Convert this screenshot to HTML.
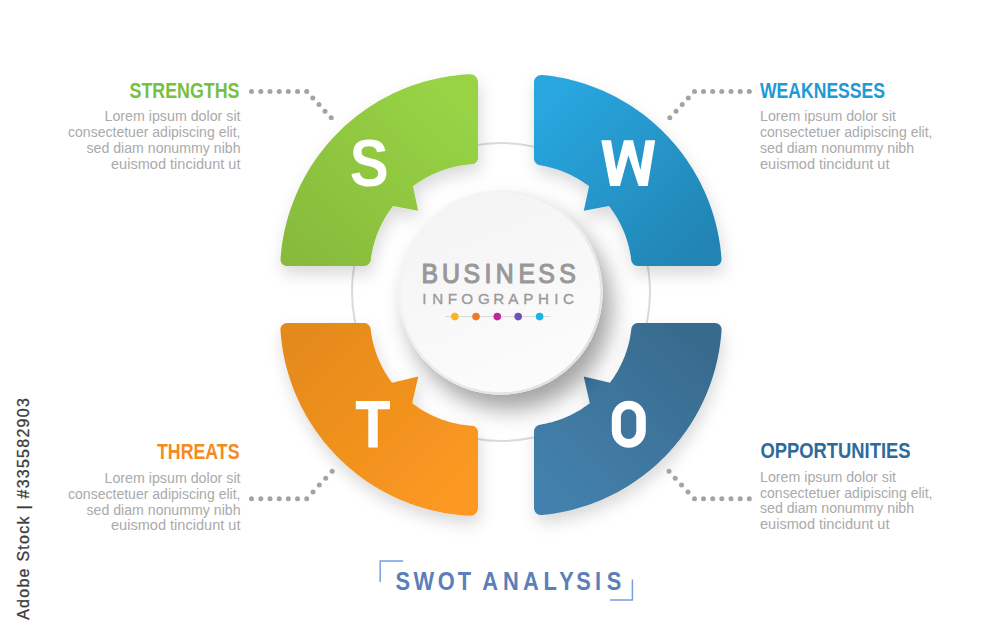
<!DOCTYPE html>
<html><head><meta charset="utf-8">
<style>
html,body{margin:0;padding:0;background:#fff;}
body{width:1000px;height:636px;overflow:hidden;position:relative;font-family:"Liberation Sans",sans-serif;}
svg{position:absolute;left:0;top:0;}
</style></head>
<body>
<svg width="1000" height="636" viewBox="0 0 1000 636">
<defs>
<linearGradient id="gG" gradientUnits="userSpaceOnUse" x1="445" y1="95" x2="300" y2="250"><stop offset="0" stop-color="#97d345"/><stop offset="1" stop-color="#88bb3b"/></linearGradient>
<linearGradient id="gB" gradientUnits="userSpaceOnUse" x1="555" y1="95" x2="705" y2="250"><stop offset="0" stop-color="#29a6df"/><stop offset="1" stop-color="#2284b3"/></linearGradient>
<linearGradient id="gO" gradientUnits="userSpaceOnUse" x1="300" y1="340" x2="460" y2="500"><stop offset="0" stop-color="#e48a1c"/><stop offset="1" stop-color="#fd9921"/></linearGradient>
<linearGradient id="gD" gradientUnits="userSpaceOnUse" x1="705" y1="340" x2="550" y2="500"><stop offset="0" stop-color="#386a8d"/><stop offset="1" stop-color="#4381ad"/></linearGradient>
<linearGradient id="gC" gradientUnits="userSpaceOnUse" x1="460" y1="195" x2="540" y2="390"><stop offset="0" stop-color="#f4f4f4"/><stop offset="1" stop-color="#fcfcfc"/></linearGradient>
<filter id="sh" x="-20%" y="-20%" width="150%" height="150%"><feDropShadow dx="2" dy="8" stdDeviation="8" flood-color="#000" flood-opacity="0.15"/></filter>
<filter id="shc" x="-40%" y="-40%" width="190%" height="190%"><feDropShadow dx="9" dy="15" stdDeviation="11" flood-color="#000" flood-opacity="0.36"/></filter>
<linearGradient id="gR" gradientUnits="userSpaceOnUse" x1="430" y1="220" x2="575" y2="370"><stop offset="0" stop-color="#f6f6f6"/><stop offset="0.5" stop-color="#ededed"/><stop offset="1" stop-color="#e0e0e0"/></linearGradient>
<filter id="glow" x="-10%" y="-50%" width="120%" height="200%"><feMorphology in="SourceAlpha" operator="dilate" radius="1.5" result="d"/><feGaussianBlur in="d" stdDeviation="1.5" result="b"/><feFlood flood-color="#fff"/><feComposite in2="b" operator="in" result="w"/><feMerge><feMergeNode in="w"/><feMergeNode in="SourceGraphic"/></feMerge></filter>
</defs>
<circle cx="501" cy="292" r="149" fill="none" stroke="#dadada" stroke-width="2"/>
<g filter="url(#sh)">
<path d="M478.00,82.00C478.00,77.58 474.42,74.10 470.00,74.21L467.50,74.33L464.01,74.57L460.52,74.86L457.04,75.22L453.56,75.63L450.09,76.11L446.64,76.65L443.19,77.25L439.75,77.91L436.32,78.63L432.91,79.41L429.51,80.25L426.13,81.15L422.76,82.11L419.41,83.13L416.08,84.21L412.77,85.34L409.48,86.54L406.21,87.79L402.96,89.10L399.74,90.47L396.54,91.89L393.37,93.37L390.22,94.90L387.10,96.49L384.01,98.14L380.95,99.83L377.92,101.59L374.92,103.39L371.95,105.25L369.01,107.16L366.11,109.12L363.25,111.13L360.42,113.19L357.63,115.30L354.87,117.46L352.15,119.67L349.47,121.92L346.84,124.23L344.24,126.57L341.69,128.97L339.17,131.40L336.70,133.89L334.28,136.41L331.90,138.98L329.56,141.59L327.27,144.24L325.03,146.93L322.84,149.65L320.69,152.42L318.60,155.22L316.55,158.06L314.55,160.94L312.61,163.85L310.71,166.79L308.87,169.77L307.08,172.78L305.34,175.82L303.66,178.89L302.03,181.99L300.46,185.12L298.94,188.27L297.48,191.45L296.07,194.66L294.72,197.89L293.43,201.14L292.19,204.42L291.01,207.71L289.89,211.03L288.83,214.37L287.83,217.72L286.89,221.09L286.01,224.48L285.18,227.88L284.42,231.30L283.71,234.73L283.07,238.17L282.49,241.62L281.97,245.08L281.51,248.56L281.11,252.03L280.77,255.52L280.49,259.01L280.49,259.01C280.29,262.87 283.26,266.00 287.12,266.00L364.23,266.00C367.54,266.00 370.47,263.33 370.78,260.03L370.99,258.38L371.26,256.48L371.57,254.59L371.91,252.70L372.28,250.82L372.69,248.95L373.13,247.09L373.60,245.23L374.10,243.38L374.64,241.54L375.21,239.71L375.81,237.89L376.44,236.08L377.11,234.29L377.80,232.50L378.53,230.73L379.29,228.97L380.08,227.22L380.90,225.49L381.75,223.77L382.63,222.07L383.54,220.39L384.48,218.72L385.45,217.06L386.44,215.43L387.47,213.81L388.53,212.21L389.61,210.63L390.72,209.07L391.86,207.53L393.02,206.00L418.20,210.70L412.98,186.27L414.53,185.11L416.11,183.97L417.71,182.87L419.32,181.79L420.96,180.74L422.61,179.72L424.28,178.73L425.97,177.77L427.67,176.84L429.40,175.94L431.13,175.07L432.89,174.24L434.65,173.43L436.43,172.66L438.23,171.91L440.04,171.20L441.86,170.52L443.69,169.88L445.53,169.27L447.38,168.69L449.25,168.14L451.12,167.63L453.00,167.15L454.89,166.70L456.79,166.29L458.70,165.91L460.61,165.56L462.53,165.25L464.45,164.98L466.37,164.73L468.31,164.53L470.24,164.35L472.00,164.23C475.32,164.10 478.00,161.32 478.00,158.00Z" fill="url(#gG)"/>
<path d="M534.00,82.30C534.00,77.89 537.57,74.58 541.98,74.91L544.48,75.16L547.97,75.57L551.44,76.04L554.91,76.57L558.37,77.17L561.81,77.82L565.24,78.54L568.66,79.31L572.07,80.14L575.46,81.04L578.84,81.99L582.19,83.01L585.53,84.08L588.85,85.21L592.15,86.40L595.43,87.65L598.68,88.95L601.91,90.32L605.12,91.73L608.30,93.21L611.46,94.74L614.58,96.33L617.68,97.97L620.75,99.66L623.79,101.41L626.80,103.22L629.78,105.07L632.72,106.98L635.63,108.94L638.50,110.95L641.34,113.01L644.14,115.12L646.90,117.28L649.63,119.49L652.31,121.74L654.96,124.04L657.56,126.39L660.13,128.79L662.65,131.23L665.12,133.71L667.56,136.23L669.94,138.80L672.28,141.41L674.58,144.06L676.83,146.76L679.03,149.49L681.18,152.25L683.29,155.06L685.34,157.90L687.34,160.78L689.29,163.70L691.19,166.64L693.04,169.62L694.84,172.64L696.58,175.68L698.27,178.75L699.90,181.86L701.48,184.99L703.00,188.15L704.47,191.33L705.88,194.54L707.24,197.78L708.53,201.04L709.77,204.32L710.95,207.62L712.08,210.94L713.14,214.28L714.15,217.64L715.09,221.02L715.98,224.41L716.80,227.82L717.57,231.24L718.28,234.68L718.92,238.12L719.50,241.58L720.03,245.05L720.49,248.53L720.89,252.01L721.23,255.50L721.51,259.00L721.51,259.01C721.71,262.87 718.74,266.00 714.88,266.00L637.77,266.00C634.46,266.00 631.53,263.33 631.22,260.03L631.01,258.38L630.74,256.48L630.43,254.59L630.09,252.70L629.72,250.82L629.31,248.95L628.87,247.09L628.40,245.23L627.90,243.38L627.36,241.54L626.79,239.71L626.19,237.89L625.56,236.08L624.89,234.29L624.20,232.50L623.47,230.73L622.71,228.97L621.92,227.22L621.10,225.49L620.25,223.77L619.37,222.07L618.46,220.39L617.52,218.72L616.55,217.06L615.56,215.43L614.53,213.81L613.47,212.21L612.39,210.63L611.28,209.07L610.14,207.53L608.98,206.00L583.80,210.70L589.02,186.27L587.47,185.11L585.91,183.98L584.32,182.88L582.71,181.81L581.09,180.77L579.44,179.75L577.78,178.77L576.10,177.81L574.40,176.88L572.69,175.99L570.97,175.12L569.22,174.29L567.47,173.48L565.69,172.71L563.91,171.97L562.11,171.26L560.30,170.58L558.48,169.94L556.65,169.32L554.81,168.74L552.95,168.20L551.09,167.68L549.22,167.20L547.34,166.75L545.45,166.34L543.56,165.96L541.66,165.61L539.95,165.33C536.66,164.90 534.00,161.87 534.00,158.56Z" fill="url(#gB)"/>
<path d="M478.00,508.00C478.00,512.42 474.42,515.90 470.00,515.79L467.47,515.67L463.96,515.43L460.46,515.13L456.97,514.78L453.48,514.36L450.00,513.88L446.53,513.33L443.07,512.73L439.62,512.07L436.19,511.34L432.76,510.55L429.35,509.71L425.96,508.80L422.58,507.84L419.22,506.81L415.88,505.73L412.56,504.58L409.26,503.38L405.98,502.12L402.73,500.80L399.50,499.43L396.29,498.00L393.11,496.51L389.95,494.96L386.82,493.37L383.73,491.71L380.66,490.00L377.62,488.24L374.61,486.42L371.64,484.55L368.70,482.63L365.79,480.66L362.92,478.64L360.09,476.56L357.29,474.44L354.53,472.27L351.81,470.05L349.13,467.78L346.48,465.46L343.89,463.10L341.33,460.69L338.81,458.24L336.34,455.74L333.92,453.20L331.53,450.62L329.20,448.00L326.91,445.33L324.67,442.63L322.48,439.89L320.33,437.10L318.24,434.28L316.19,431.43L314.20,428.54L312.25,425.61L310.36,422.65L308.52,419.66L306.74,416.63L305.01,413.58L303.33,410.49L301.71,407.38L300.14,404.23L298.63,401.06L297.17,397.87L295.77,394.64L294.43,391.40L293.15,388.13L291.92,384.84L290.75,381.53L289.64,378.19L288.59,374.84L287.60,371.47L286.67,368.09L285.80,364.68L284.99,361.27L284.23,357.83L283.54,354.39L282.91,350.93L282.35,347.47L281.84,343.99L281.39,340.51L281.01,337.02L280.69,333.52L280.43,330.02L280.42,329.99C280.24,326.13 283.22,323.00 287.09,323.00L364.17,323.00C367.48,323.00 370.39,325.68 370.66,328.98L370.87,330.78L371.14,332.72L371.44,334.65L371.77,336.57L372.14,338.49L372.54,340.40L372.98,342.31L373.45,344.21L373.95,346.09L374.49,347.97L375.06,349.84L375.67,351.70L376.31,353.54L376.98,355.38L377.68,357.20L378.42,359.01L379.19,360.81L379.99,362.59L380.83,364.36L381.69,366.11L382.59,367.85L383.51,369.57L384.47,371.27L385.46,372.95L386.48,374.62L387.52,376.27L388.60,377.90L389.71,379.51L390.84,381.10L392.01,382.67L418.30,376.60L412.20,403.13L413.72,404.29L415.27,405.43L416.83,406.53L418.42,407.61L420.02,408.66L421.64,409.69L423.28,410.68L424.93,411.65L426.60,412.58L428.29,413.49L430.00,414.36L431.72,415.21L433.45,416.03L435.20,416.81L436.96,417.57L438.73,418.29L440.52,418.98L442.32,419.64L444.13,420.27L445.95,420.87L447.78,421.43L449.62,421.97L451.47,422.47L453.33,422.93L455.20,423.37L457.07,423.77L458.95,424.14L460.84,424.48L462.73,424.78L464.63,425.05L466.53,425.28L468.43,425.49L470.34,425.66L472.00,425.77C475.32,425.90 478.00,428.68 478.00,432.00Z" fill="url(#gO)"/>
<path d="M534.00,507.70C534.00,512.11 537.57,515.42 541.98,515.09L544.40,514.85L547.85,514.44L551.30,513.98L554.73,513.45L558.16,512.87L561.58,512.22L564.98,511.52L568.38,510.76L571.76,509.93L575.12,509.05L578.47,508.11L581.80,507.12L585.11,506.06L588.41,504.94L591.68,503.77L594.93,502.54L598.16,501.26L601.37,499.92L604.56,498.52L607.72,497.07L610.85,495.56L613.96,494.00L617.04,492.38L620.09,490.71L623.11,488.99L626.10,487.21L629.05,485.38L631.98,483.51L634.87,481.58L637.73,479.60L640.56,477.57L643.34,475.49L646.09,473.36L648.81,471.19L651.48,468.96L654.12,466.70L656.71,464.38L659.27,462.02L661.78,459.62L664.25,457.17L666.68,454.68L669.06,452.15L671.40,449.58L673.70,446.97L675.95,444.31L678.15,441.62L680.30,438.89L682.41,436.12L684.46,433.32L686.47,430.48L688.43,427.61L690.34,424.70L692.19,421.76L694.00,418.79L695.75,415.78L697.45,412.75L699.10,409.69L700.69,406.60L702.23,403.48L703.71,400.33L705.14,397.16L706.51,393.97L707.83,390.75L709.09,387.51L710.29,384.24L711.44,380.96L712.53,377.66L713.56,374.34L714.53,371.00L715.45,367.64L716.30,364.27L717.10,360.89L717.84,357.49L718.51,354.08L719.13,350.66L719.69,347.23L720.19,343.78L720.63,340.33L721.00,336.88L721.32,333.41L721.58,329.99C721.76,326.13 718.78,323.00 714.91,323.00L637.83,323.00C634.52,323.00 631.61,325.68 631.34,328.98L631.13,330.78L630.86,332.72L630.56,334.65L630.23,336.57L629.86,338.49L629.46,340.40L629.02,342.31L628.55,344.21L628.05,346.09L627.51,347.97L626.94,349.84L626.33,351.70L625.69,353.54L625.02,355.38L624.32,357.20L623.58,359.01L622.81,360.81L622.01,362.59L621.17,364.36L620.31,366.11L619.41,367.85L618.49,369.57L617.53,371.27L616.54,372.95L615.52,374.62L614.48,376.27L613.40,377.90L612.29,379.51L611.16,381.10L609.99,382.67L583.70,376.60L589.80,403.13L588.29,404.28L586.75,405.41L585.20,406.51L583.63,407.58L582.04,408.63L580.43,409.64L578.81,410.63L577.16,411.59L575.50,412.52L573.83,413.42L572.14,414.30L570.43,415.14L568.71,415.95L566.98,416.73L565.23,417.49L563.47,418.21L561.70,418.90L559.91,419.56L558.12,420.19L556.31,420.79L554.49,421.35L552.67,421.89L550.83,422.39L548.99,422.86L547.14,423.29L545.28,423.70L543.41,424.07L541.54,424.41L539.95,424.67C536.66,425.10 534.00,428.13 534.00,431.44Z" fill="url(#gD)"/>
</g>
<circle cx="500.5" cy="292.5" r="102" fill="#f0f0f0" filter="url(#shc)"/>
<circle cx="500.5" cy="292.5" r="101" fill="url(#gC)" stroke="url(#gR)" stroke-width="2.5"/>
<!-- letters -->
<text x="369.2" y="186" font-family="Liberation Sans" font-weight="bold" font-size="67" fill="#fff" text-anchor="middle" transform="translate(368.9 0) scale(0.87 1) translate(-368.9 0)">S</text>
<path d="M601.3,140.2H611L616.2,170L623.9,140.2H633L640.4,170L645.5,140.2H655.2L647.7,186H638.6L628.4,155.3L620,186H610.1Z" fill="#fff"/>
<path d="M355.8,400.9H390V409.3H377.7V447.4H368.3V409.3H355.8Z" fill="#fff"/>
<path fill="#fff" fill-rule="evenodd" d="M611.8,417.7A17,17 0 0 1 645.8,417.7V430.8A17,17 0 0 1 611.8,430.8Z M620.9,416.9A7.7,7.7 0 0 1 636.3,416.9V431.2A7.7,7.7 0 0 1 620.9,431.2Z"/>
<!-- center text -->
<text x="467.28 490.22 512.93 530.43 548.59 572.50 594.13 616.85" y="283" transform="scale(0.92 1)" text-anchor="middle" font-family="Liberation Sans" font-size="27" fill="#999999" stroke="#999999" stroke-width="1.2">BUSINESS</text>
<text x="424.40 437.70 452.40 467.20 483.80 498.70 513.40 528.40 543.60 556.30 568.60" y="303.6" text-anchor="middle" font-family="Liberation Sans" font-size="15.2" fill="#9a9a9a" stroke="#9a9a9a" stroke-width="0.35">INFOGRAPHIC</text>
<line x1="445" y1="316.6" x2="550.3" y2="316.6" stroke="#d8d8d8" stroke-width="1"/>
<circle cx="454.8" cy="316.6" r="3.8" fill="#fbb51f"/>
<circle cx="476" cy="316.6" r="3.8" fill="#f07b24"/>
<circle cx="497.3" cy="316.6" r="3.8" fill="#c0279a"/>
<circle cx="518.2" cy="316.6" r="3.8" fill="#6c52b5"/>
<circle cx="539.6" cy="316.6" r="3.8" fill="#1ab5e5"/>
<!-- dotted connectors -->
<g fill="#a3a3a3">
<circle cx="251.5" cy="91.5" r="2.5"/><circle cx="251.5" cy="498.8" r="2.5"/><circle cx="260.8" cy="91.5" r="2.5"/><circle cx="260.8" cy="498.8" r="2.5"/><circle cx="270" cy="91.5" r="2.5"/><circle cx="270" cy="498.8" r="2.5"/><circle cx="279.2" cy="91.5" r="2.5"/><circle cx="279.2" cy="498.8" r="2.5"/><circle cx="288.3" cy="91.5" r="2.5"/><circle cx="288.3" cy="498.8" r="2.5"/><circle cx="297.5" cy="91.5" r="2.5"/><circle cx="297.5" cy="498.8" r="2.5"/><circle cx="306.7" cy="91.5" r="2.5"/><circle cx="306.7" cy="498.8" r="2.5"/><circle cx="694.5" cy="91.5" r="2.5"/><circle cx="694.5" cy="498.8" r="2.5"/><circle cx="703.5" cy="91.5" r="2.5"/><circle cx="703.5" cy="498.8" r="2.5"/><circle cx="712.7" cy="91.5" r="2.5"/><circle cx="712.7" cy="498.8" r="2.5"/><circle cx="721.8" cy="91.5" r="2.5"/><circle cx="721.8" cy="498.8" r="2.5"/><circle cx="731" cy="91.5" r="2.5"/><circle cx="731" cy="498.8" r="2.5"/><circle cx="740.2" cy="91.5" r="2.5"/><circle cx="740.2" cy="498.8" r="2.5"/><circle cx="749.3" cy="91.5" r="2.5"/><circle cx="749.3" cy="498.8" r="2.5"/><circle cx="312.8" cy="98" r="2.5"/><circle cx="319" cy="104.5" r="2.5"/><circle cx="325" cy="111.2" r="2.5"/><circle cx="331.2" cy="117.8" r="2.5"/><circle cx="688.3" cy="98" r="2.5"/><circle cx="682.2" cy="104.5" r="2.5"/><circle cx="676" cy="111.2" r="2.5"/><circle cx="669.8" cy="117.8" r="2.5"/><circle cx="313" cy="492" r="2.5"/><circle cx="319.3" cy="485" r="2.5"/><circle cx="325.7" cy="478.3" r="2.5"/><circle cx="332.2" cy="471.2" r="2.5"/><circle cx="688" cy="492" r="2.5"/><circle cx="681.5" cy="485" r="2.5"/><circle cx="675.2" cy="478.3" r="2.5"/><circle cx="669" cy="471.2" r="2.5"/>
</g>
<!-- headings -->
<text x="129.5" y="98.1" font-family="Liberation Sans" font-weight="bold" font-size="21.6" fill="#78c03f" textLength="110" lengthAdjust="spacingAndGlyphs">STRENGTHS</text>
<text x="760" y="98.2" font-family="Liberation Sans" font-weight="bold" font-size="21.6" fill="#2199d5" textLength="125" lengthAdjust="spacingAndGlyphs">WEAKNESSES</text>
<text x="157" y="459" font-family="Liberation Sans" font-weight="bold" font-size="21.6" fill="#f58a1f" textLength="82.5" lengthAdjust="spacingAndGlyphs">THREATS</text>
<text x="760.5" y="457.7" font-family="Liberation Sans" font-weight="bold" font-size="21.6" fill="#2d6b9c" textLength="150" lengthAdjust="spacingAndGlyphs">OPPORTUNITIES</text>
<g font-family="Liberation Sans" font-size="14" fill="#aaaaaa">
<g text-anchor="end">
<text x="240.5" y="121.2" textLength="136" lengthAdjust="spacingAndGlyphs">Lorem ipsum dolor sit</text>
<text x="240.5" y="137" textLength="172.5" lengthAdjust="spacingAndGlyphs">consectetuer adipiscing elit,</text>
<text x="240.5" y="152.8" textLength="154" lengthAdjust="spacingAndGlyphs">sed diam nonummy nibh</text>
<text x="240.5" y="168.6" textLength="129.5" lengthAdjust="spacingAndGlyphs">euismod tincidunt ut</text>
<text x="240.5" y="483" textLength="136" lengthAdjust="spacingAndGlyphs">Lorem ipsum dolor sit</text>
<text x="240.5" y="498.8" textLength="172.5" lengthAdjust="spacingAndGlyphs">consectetuer adipiscing elit,</text>
<text x="240.5" y="514.6" textLength="154" lengthAdjust="spacingAndGlyphs">sed diam nonummy nibh</text>
<text x="240.5" y="530.4" textLength="129.5" lengthAdjust="spacingAndGlyphs">euismod tincidunt ut</text>
</g>
<text x="760" y="121.2" textLength="136" lengthAdjust="spacingAndGlyphs">Lorem ipsum dolor sit</text>
<text x="760" y="137" textLength="172.5" lengthAdjust="spacingAndGlyphs">consectetuer adipiscing elit,</text>
<text x="760" y="152.8" textLength="154" lengthAdjust="spacingAndGlyphs">sed diam nonummy nibh</text>
<text x="760" y="168.6" textLength="129.5" lengthAdjust="spacingAndGlyphs">euismod tincidunt ut</text>
<text x="760" y="481.7" textLength="136" lengthAdjust="spacingAndGlyphs">Lorem ipsum dolor sit</text>
<text x="760" y="497.5" textLength="172.5" lengthAdjust="spacingAndGlyphs">consectetuer adipiscing elit,</text>
<text x="760" y="513.3" textLength="154" lengthAdjust="spacingAndGlyphs">sed diam nonummy nibh</text>
<text x="760" y="529.1" textLength="129.5" lengthAdjust="spacingAndGlyphs">euismod tincidunt ut</text>
</g>
<!-- title -->
<text x="468.31 492.91 518.95 540.00 569.83 594.01 617.21 639.59 658.72 678.66 695.41 714.07" y="589.9" transform="scale(0.86 1)" text-anchor="middle" font-family="Liberation Sans" font-weight="bold" font-size="25.4" fill="#5b7fb8">SWOTANALYSIS</text>
<path d="M403.2,561H380.2V582" fill="none" stroke="#7a9fe0" stroke-width="1.5"/>
<path d="M632.4,579.4V600H610" fill="none" stroke="#7a9fe0" stroke-width="1.5"/>
<!-- watermark id -->
<text transform="translate(28.6 619.8) rotate(-90)" font-family="Liberation Sans" font-size="16" fill="#3c3c3c" stroke="#3c3c3c" stroke-width="0.3" textLength="221.6" lengthAdjust="spacing">Adobe Stock | #335582903</text>
</svg>
</body></html>
